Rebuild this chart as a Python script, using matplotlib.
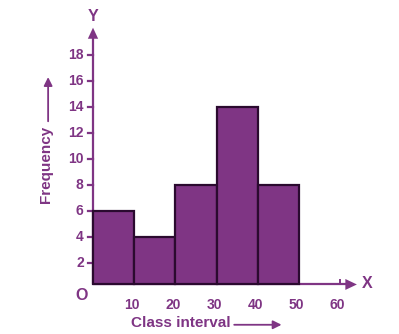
import matplotlib
matplotlib.use("Agg")
import matplotlib.pyplot as plt
from matplotlib.patches import Polygon

# Histogram data: class intervals and their frequencies
class_edges = [0, 10, 20, 30, 40, 50]
frequencies = [6, 4, 8, 14, 8]
x_tick_values = [10, 20, 30, 40, 50, 60]
y_tick_values = [2, 4, 6, 8, 10, 12, 14, 16, 18]

PURPLE = "#7f3584"
EDGE = "#2b0a2f"
FONT = "Liberation Sans"

fig = plt.figure(figsize=(3.99, 3.34), dpi=100)
ax = fig.add_axes([0, 0, 1, 1])
ax.set_xlim(-22.59, 74.33)
ax.set_ylim(-3.46, 22.23)
ax.axis("off")

base = 0.35  # where the horizontal axis sits

# bars
for left, right, f in zip(class_edges[:-1], class_edges[1:], frequencies):
    ax.bar(left, f - base, width=right - left, bottom=base, align="edge",
           color=PURPLE, edgecolor=EDGE, linewidth=1.6, zorder=3)

# axes lines with arrow heads
ax.plot([0, 62.0], [base, base], color=PURPLE, lw=1.6, zorder=2,
        solid_capstyle="butt")
ax.plot([0, 0], [base, 19.3], color=PURPLE, lw=1.6, zorder=2,
        solid_capstyle="butt")
ax.add_patch(Polygon([[61.3, base + 0.42], [64.1, base], [61.3, base - 0.42]],
                     closed=True, color=PURPLE, lw=0, zorder=4))
ax.add_patch(Polygon([[-1.25, 19.25], [0, 20.1], [1.25, 19.25]],
                     closed=True, color=PURPLE, lw=0, zorder=4))

# ticks
for y in y_tick_values:
    ax.plot([-1.2, 0], [y, y], color=PURPLE, lw=1.6, zorder=2)
    ax.text(-2.25, y, str(y), ha="right", va="center", color=PURPLE,
            fontsize=10, fontweight="bold", family=FONT)
for x in x_tick_values:
    ax.plot([x, x], [base, base + 0.35], color=PURPLE, lw=1.4, zorder=2)
    ax.text(x - 0.6, -1.2, str(x), ha="center", va="center", color=PURPLE,
            fontsize=10, fontweight="bold", family=FONT)

ax.text(-2.7, -0.5, "O", ha="center", va="center", color=PURPLE,
        fontsize=11.5, fontweight="bold", family=FONT)
ax.text(66.7, base + 0.1, "X", ha="center", va="center", color=PURPLE,
        fontsize=11.5, fontweight="bold", family=FONT)
ax.text(0, 20.95, "Y", ha="center", va="center", color=PURPLE,
        fontsize=11.5, fontweight="bold", family=FONT)

# axis titles with arrows
ax.text(9.3, -2.6, "Class interval", ha="left", va="center", color=PURPLE,
        fontsize=11, fontweight="bold", family=FONT)
ax.annotate("", xy=(45.8, -2.75), xytext=(34.3, -2.75),
            arrowprops=dict(arrowstyle="-|>,head_length=0.5,head_width=0.25",
                            color=PURPLE, lw=1.3, shrinkA=0, shrinkB=0))
ax.text(-11.5, 9.55, "Frequency", ha="center", va="center", rotation=90,
        color=PURPLE, fontsize=11, fontweight="bold", family=FONT)
ax.annotate("", xy=(-10.9, 16.3), xytext=(-10.9, 12.9),
            arrowprops=dict(arrowstyle="-|>,head_length=0.5,head_width=0.25",
                            color=PURPLE, lw=1.3, shrinkA=0, shrinkB=0))

fig.savefig("out.png", dpi=100, facecolor="white")
